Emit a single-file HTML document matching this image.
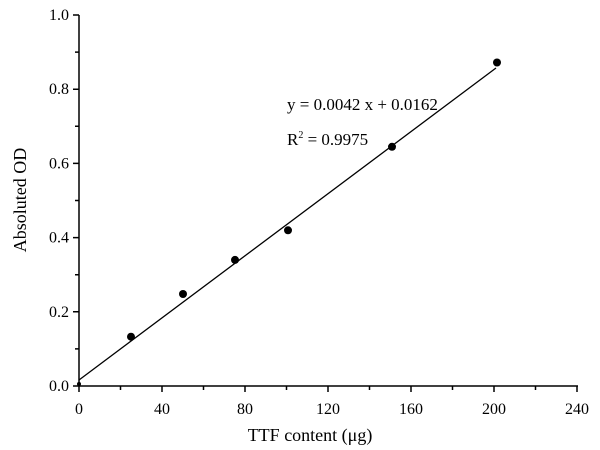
<!DOCTYPE html>
<html><head><style>body{margin:0;background:#fff}svg{display:block}text{font-family:"Liberation Serif",serif;fill:#000}</style></head>
<body>
<svg width="600" height="450" viewBox="0 0 600 450">
<g stroke="#000" stroke-width="1.5" fill="none">
<line x1="79" y1="15" x2="79" y2="386"/>
<line x1="79" y1="386" x2="578" y2="386"/>
<path d="M79 386v6M162 386v6M245 386v6M328 386v6M411 386v6M494 386v6M577 386v6M120.5 386v4M203.5 386v4M286.5 386v4M369.5 386v4M452.5 386v4M535.5 386v4"/>
<path d="M79 386h-6M79 311.8h-6M79 237.6h-6M79 163.4h-6M79 89.2h-6M79 15h-6M79 348.9h-4M79 274.7h-4M79 200.5h-4M79 126.3h-4M79 52.1h-4"/>
</g>
<line x1="79" y1="380" x2="496" y2="68" stroke="#000" stroke-width="1.3"/>
<g fill="#000">
<circle cx="131" cy="336.7" r="4"/>
<circle cx="183" cy="294" r="4"/>
<circle cx="235" cy="259.9" r="4"/>
<circle cx="288" cy="230.3" r="4"/>
<circle cx="392" cy="146.8" r="4"/>
<circle cx="497" cy="62.5" r="4"/>
<circle cx="79" cy="384" r="2"/>
</g>
<g font-size="16" text-anchor="middle">
<text x="79" y="414">0</text><text x="162" y="414">40</text><text x="245" y="414">80</text><text x="328" y="414">120</text><text x="411" y="414">160</text><text x="494" y="414">200</text><text x="577" y="414">240</text>
</g>
<g font-size="16" text-anchor="end">
<text x="69" y="391">0.0</text><text x="69" y="316.8">0.2</text><text x="69" y="242.6">0.4</text><text x="69" y="168.4">0.6</text><text x="69" y="94.2">0.8</text><text x="69" y="20">1.0</text>
</g>
<text x="310" y="441" font-size="18" text-anchor="middle">TTF content (μg)</text>
<text transform="translate(26 200) rotate(-90)" font-size="18" text-anchor="middle">Absoluted OD</text>
<text x="287" y="110" font-size="17">y = 0.0042 x + 0.0162</text>
<text x="287" y="145" font-size="17">R<tspan font-size="10" dy="-7">2</tspan><tspan dy="7"> = 0.9975</tspan></text>
</svg>
</body></html>
